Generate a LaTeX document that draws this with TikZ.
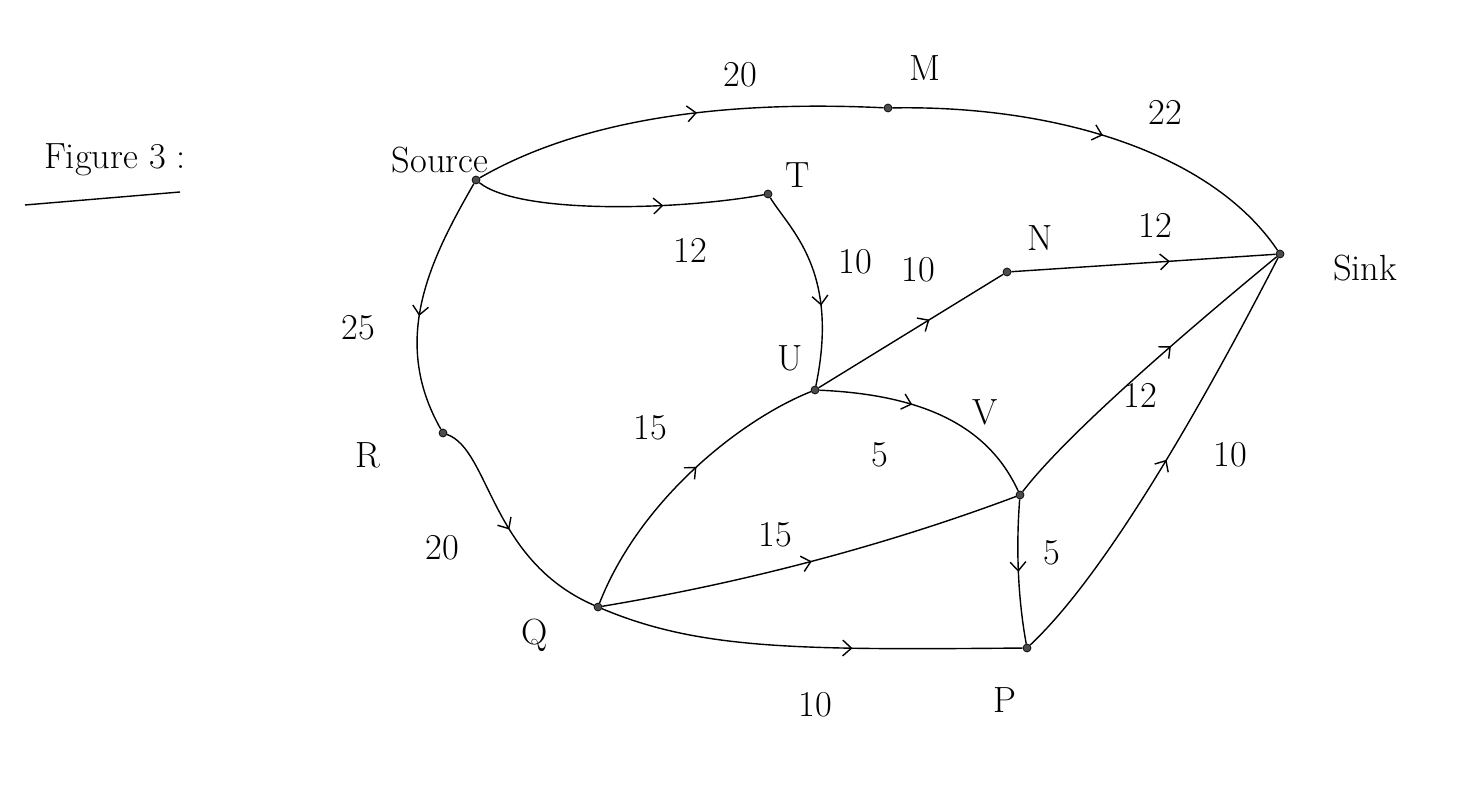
\documentclass[tikz,border=0pt]{standalone}
\usetikzlibrary{decorations.markings,arrows.meta}
\begin{document}
\begin{tikzpicture}[x=0.02cm,y=-0.02cm,
  vtx/.style={circle,draw,fill=black!70,inner sep=1.6pt},
  edge/.style={thick,postaction={decorate},decoration={markings,mark=at position #1 with {\arrow{Straight Barb[length=5pt,width=9pt]}}}},
  edge/.default=0.5,
  lbl/.style={font=\huge}]
\useasboundingbox (0,0) rectangle (1470,786);
\node[vtx] (S) at (476,180) {};
\node[vtx] (M) at (888,108) {};
\node[vtx] (T) at (768,194) {};
\node[vtx] (K) at (1280,254) {};
\node[vtx] (N) at (1007,272) {};
\node[vtx] (U) at (815,390) {};
\node[vtx] (R) at (443,433) {};
\node[vtx] (V) at (1020,495) {};
\node[vtx] (Q) at (598,607) {};
\node[vtx] (P) at (1027,648) {};
\draw[edge=0.55] (S) .. controls (580,120) and (720,100) .. (M);
\draw[edge=0.5] (M) .. controls (1050,105) and (1210,150) .. (K);
\draw[edge=0.65] (S) .. controls (520,215) and (680,210) .. (T);
\draw[edge=0.6] (T) .. controls (790,230) and (840,270) .. (U);
\draw[edge=0.55] (S) .. controls (430,260) and (390,340) .. (R);
\draw[edge=0.5] (R) .. controls (490,450) and (490,560) .. (Q);
\draw[edge=0.6] (U) -- (N);
\draw[edge=0.6] (N) -- (K);
\draw[edge=0.4] (U) .. controls (930,395) and (990,430) .. (V);
\draw[edge=0.55] (Q) .. controls (640,500) and (740,420) .. (U);
\draw[edge=0.5] (Q) .. controls (760,580) and (900,540) .. (V);
\draw[edge=0.6] (V) .. controls (1070,430) and (1200,320) .. (K);
\draw[edge=0.5] (V) .. controls (1015,560) and (1020,610) .. (P);
\draw[edge=0.6] (Q) .. controls (700,650) and (800,650) .. (P);
\draw[edge=0.5] (P) .. controls (1110,570) and (1210,390) .. (K);
\node[lbl] at (740,75) {20};
\node[lbl] at (1165,112) {22};
\node[lbl] at (690,250) {12};
\node[lbl] at (855,262) {10};
\node[lbl] at (358,328) {25};
\node[lbl] at (442,548) {20};
\node[lbl] at (918,270) {10};
\node[lbl] at (1155,225) {12};
\node[lbl] at (880,455) {5};
\node[lbl] at (650,428) {15};
\node[lbl] at (775,535) {15};
\node[lbl] at (1140,395) {12};
\node[lbl] at (1052,553) {5};
\node[lbl] at (815,705) {10};
\node[lbl] at (1230,455) {10};
\node[lbl] at (440,160) {Source};
\node[lbl] at (925,68) {M};
\node[lbl] at (798,175) {T};
\node[lbl] at (1365,268) {Sink};
\node[lbl] at (1040,238) {N};
\node[lbl] at (790,358) {U};
\node[lbl] at (985,412) {V};
\node[lbl] at (368,455) {R};
\node[lbl] at (535,635) {Q};
\node[lbl] at (1005,700) {P};
\node[lbl] (fig) at (115,160) {Figure 3 :};
\draw[thick] (25,205) -- (180,192);
\end{tikzpicture}
\end{document}
